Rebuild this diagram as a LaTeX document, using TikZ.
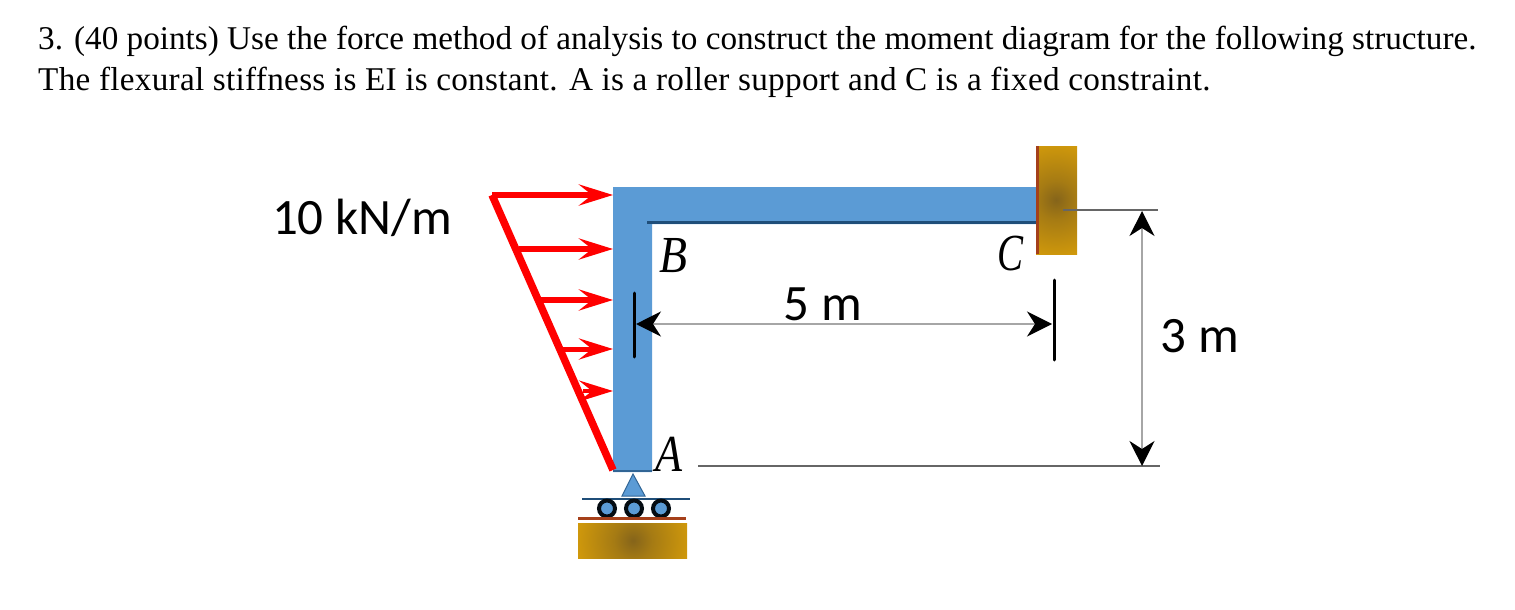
\documentclass[tikz,border=0pt]{standalone}
\usepackage{fontspec}
\setmainfont{Liberation Serif}
\newfontfamily\labelfont{Carlito}
\usetikzlibrary{arrows.meta}
\definecolor{framecol}{HTML}{5B9BD5}
\definecolor{framedark}{HTML}{1F4E79}
\definecolor{goldcol}{HTML}{D69D0A}
\definecolor{goldcore}{HTML}{85641A}
\definecolor{wallred}{HTML}{A5401A}
\pgfdeclareradialshading{goldspot}{\pgfpointorigin}{color(0bp)=(goldcore); color(8bp)=(goldcore!60!goldcol); color(26bp)=(goldcol); color(100bp)=(goldcol)}
\tikzset{
  loadarrow/.style={red, line width=6.2pt, -{Stealth[length=34pt, width=21pt, inset=13pt]}},
  dimline/.style={black!35, line width=1.4pt},
  extline/.style={black!60, line width=1.6pt},
  tickline/.style={black, line width=3pt, line cap=round},
  dimtip/.style={{Stealth[black, length=25pt, width=25pt, inset=8pt]}-{Stealth[black, length=25pt, width=25pt, inset=8pt]}},
  textline/.style={anchor=base west, inner sep=0pt, font=\fontsize{33.2}{42}\selectfont},
  dimlabel/.style={inner sep=0pt, font=\labelfont\fontsize{51}{56}\selectfont},
  pointlabel/.style={inner sep=0pt, font=\itshape\fontsize{52}{56}\selectfont},
  roller/.style={fill=framecol, draw=black!85!framedark, line width=4pt},
  ground/.style={shading=goldspot}
}
\begin{document}
\begin{tikzpicture}[x=1pt, y=-1pt]
  \useasboundingbox (0,0) rectangle (1515,610);
  % problem statement
  \node[textline] (line1) at (38,49) {3. (40 points) Use the force method of analysis to construct the moment diagram for the following structure.};
  \node[textline] (line2) at (38,91) {\addfontfeature{LetterSpace=0.9}The flexural stiffness is EI is constant. A is a roller support and C is a fixed constraint.};
  % frame
  \fill[framecol] (613,187) -- (1037,187) -- (1037,224) -- (652,224) -- (652,472) -- (613,472) -- cycle;
  \draw[framedark, line width=3pt] (647,222) -- (1037,222);
  \draw[framedark!70!framecol, line width=1.5pt] (613,471) -- (652,471);
  % wall at C
  \begin{scope}
    \clip (1036,146) rectangle (1077,254);
    \shade[ground] (1056,200) circle (60);
  \end{scope}
  \fill[wallred] (1036,146) rectangle (1039,254);
  % roller at A
  \filldraw[fill=framecol, draw=framedark!70!framecol, line width=1pt] (633,474) -- (645,496) -- (622,496) -- cycle;
  \draw[framedark, line width=2.2pt] (582,499) -- (690,499);
  \filldraw[roller] (607,508.5) circle (8);
  \filldraw[roller] (634,508.5) circle (8);
  \filldraw[roller] (661,508.5) circle (8);
  \fill[wallred] (578,517) rectangle (686,520);
  \begin{scope}
    \clip (578,523) rectangle (687,558);
    \shade[ground] (633,540.5) circle (60);
  \end{scope}
  % distributed load
  \coordinate (q1) at (492,195);
  \coordinate (q2) at (519,249);
  \coordinate (q3) at (541,300);
  \coordinate (q4) at (563,349);
  \coordinate (q5) at (583,391);
  \coordinate (qA) at (613,470);
  \coordinate (p1) at (613,195);
  \coordinate (p2) at (613,249);
  \coordinate (p3) at (613,300);
  \coordinate (p4) at (613,349);
  \coordinate (p5) at (613,391);
  \draw[loadarrow] (q1) -- (p1);
  \draw[loadarrow] (q2) -- (p2);
  \draw[loadarrow] (q3) -- (p3);
  \draw[loadarrow, line width=5pt] (q4) -- (p4);
  \draw[loadarrow, line width=4pt] (q5) -- (p5);
  \draw[red, line width=7.5pt] (q1) -- (qA);
  % dimensions
  \coordinate (wallc) at (1063,210);
  \coordinate (extc) at (1158,210);
  \coordinate (exta) at (698,466);
  \coordinate (extb) at (1160,466);
  \coordinate (dimc) at (1142,211);
  \coordinate (dima) at (1142,466);
  \coordinate (tickl) at (636,324);
  \coordinate (tickr) at (1052,324);
  \draw[extline] (wallc) -- (extc);
  \draw[extline] (exta) -- (extb);
  \draw[dimline, dimtip] (dimc) -- (dima);
  \draw[dimline, dimtip] (tickl) -- (tickr);
  \draw[tickline] (634,293) -- (634,357);
  \draw[tickline] (1054,280) -- (1054,360);
  % labels
  \node[dimlabel] (load) at (362,218) {10 kN/m};
  \node[dimlabel] (five) at (823,304) {5 m};
  \node[dimlabel] (three) at (1200,336) {3 m};
  \node[pointlabel] (B) at (673,256) {\scalebox{.88}[1]{B}};
  \node[pointlabel] (A) at (669,454) {\scalebox{.85}[1]{A}};
  \node[pointlabel] (C) at (1010,254) {\scalebox{.75}[1]{C}};
\end{tikzpicture}
\end{document}
